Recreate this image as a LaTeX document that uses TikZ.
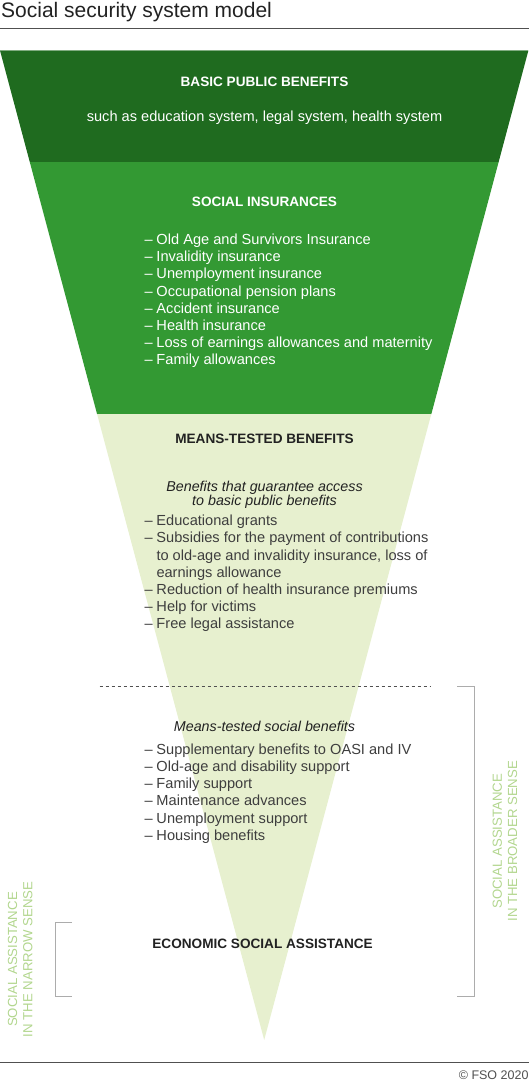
\documentclass[tikz,border=0pt]{standalone}
\usepackage{fontspec}
\setmainfont{Liberation Sans}
\usetikzlibrary{positioning,calc}
\definecolor{FunnelDark}{RGB}{31,107,31}
\definecolor{FunnelMid}{RGB}{51,153,51}
\definecolor{FunnelPale}{RGB}{231,240,207}
\definecolor{FunnelEdge}{RGB}{128,172,128}
\definecolor{SideGreen}{RGB}{178,214,142}
\definecolor{InkDark}{RGB}{34,34,34}
\definecolor{InkList}{RGB}{62,62,62}
\definecolor{RuleGray}{RGB}{80,80,80}
\definecolor{BracketGray}{RGB}{172,172,172}
\newcommand{\lstdash}{\makebox[11.9pt][l]{\textendash}}

\begin{document}
\begin{tikzpicture}[x=1pt, y=-1pt, every node/.style={inner sep=0pt}]
\tikzset{
  headline/.style={font=\fontsize{13.6}{16}\selectfont\bfseries, anchor=base},
  itemlist/.style={font=\fontsize{14.6}{17.2}\selectfont, align=left, anchor=base west},
  subhead/.style={font=\fontsize{14.3}{14}\selectfont\itshape, align=center, anchor=base, InkDark},
  sidelabel/.style={font=\fontsize{13.2}{15.2}\selectfont, SideGreen, rotate=90, align=center},
  bracket/.style={BracketGray, line width=1pt},
  rule/.style={RuleGray, line width=1.2pt}
}
  \useasboundingbox (0,0) rectangle (529,1087);
  % title and rules (multi-line nodes sit on the baseline of their last line)
  \node[font=\fontsize{21}{24}\selectfont, anchor=base west, InkDark] (title) at (1,17.6) {Social security system model};
  \coordinate (ruletopL) at (0,28.7);
  \coordinate (ruletopR) at (529,28.7);
  \draw[rule] (ruletopL) -- (ruletopR);
  % funnel
  \coordinate (tl) at (0,50.5);
  \coordinate (tr) at (528.4,50.5);
  \coordinate (apex) at (264.2,1040);
  \coordinate (l1) at ($(tl)!0.1127!(apex)$);
  \coordinate (r1) at ($(tr)!0.1127!(apex)$);
  \coordinate (l2) at ($(tl)!0.3674!(apex)$);
  \coordinate (r2) at ($(tr)!0.3674!(apex)$);
  \fill[FunnelDark] (tl) -- (tr) -- (r1) -- (l1) -- cycle;
  \fill[FunnelMid] (l1) -- (r1) -- (r2) -- (l2) -- cycle;
  \fill[FunnelPale] (l2) -- (r2) -- (apex) -- cycle;
  \draw[FunnelEdge, line width=0.8pt] (tl) -- (tr);

  \node[headline, white] (basic) at (264.5,86) {BASIC PUBLIC BENEFITS};
  \node[font=\fontsize{14.6}{17}\selectfont, anchor=base, white] (basicsub) at (264.5,121.5) {such as education system, legal system, health system};

  \node[headline, white] (insur) at (264.5,206.4) {SOCIAL INSURANCES};
  \node[itemlist, white] (insurlist) at (144.4,364.9) {\lstdash Old Age and Survivors Insurance\\
    \lstdash Invalidity insurance\\
    \lstdash Unemployment insurance\\
    \lstdash Occupational pension plans\\
    \lstdash Accident insurance\\
    \lstdash Health insurance\\
    \lstdash Loss of earnings allowances and maternity\\
    \lstdash Family allowances};

  \node[headline, InkDark] (means) at (264.5,443.3) {MEANS-TESTED BENEFITS};
  \node[subhead] (access) at (264.5,505) {Benefits that guarantee access\\to basic public benefits};
  \node[itemlist, InkList] (accesslist) at (144.4,628.9) {\lstdash Educational grants\\
    \lstdash Subsidies for the payment of contributions\\
    \hspace*{11.9pt}to old-age and invalidity insurance, loss of\\
    \hspace*{11.9pt}earnings allowance\\
    \lstdash Reduction of health insurance premiums\\
    \lstdash Help for victims\\
    \lstdash Free legal assistance};

  \coordinate (cutL) at (99.5,686.2);
  \coordinate (cutR) at (430,686.2);
  \draw[RuleGray, line width=0.8pt, dash pattern=on 3pt off 3pt] (cutL) -- (cutR);

  \node[subhead] (social) at (264.5,731.7) {Means-tested social benefits};
  \node[itemlist, InkList] (sociallist) at (144.4,840.3) {\lstdash Supplementary benefits to OASI and IV\\
    \lstdash Old-age and disability support\\
    \lstdash Family support\\
    \lstdash Maintenance advances\\
    \lstdash Unemployment support\\
    \lstdash Housing benefits};

  \node[headline, InkDark] (econ) at (262.6,948.3) {ECONOMIC SOCIAL ASSISTANCE};

  % brackets and side labels
  \coordinate (broadT) at (457,686.2);
  \coordinate (broadB) at (457,996.5);
  \draw[bracket] (broadT) -- ++(17.2,0) |- (broadB);
  \node[sidelabel] (broad) at (505,841.3) {SOCIAL ASSISTANCE\\IN THE BROADER SENSE};
  \coordinate (narrowT) at (72,922.3);
  \coordinate (narrowB) at (72,996.7);
  \draw[bracket] (narrowT) -- ++(-16.7,0) |- (narrowB);
  \node[sidelabel] (narrow) at (20.3,959.5) {SOCIAL ASSISTANCE\\IN THE NARROW SENSE};

  \coordinate (rulebotL) at (0,1062.5);
  \coordinate (rulebotR) at (529,1062.5);
  \draw[rule, line width=1.5pt] (rulebotL) -- (rulebotR);
  \node[font=\fontsize{12.5}{14}\selectfont, anchor=base east, RuleGray] (credit) at (528.7,1079.3) {\textcopyright{} FSO 2020};
\end{tikzpicture}
\end{document}
